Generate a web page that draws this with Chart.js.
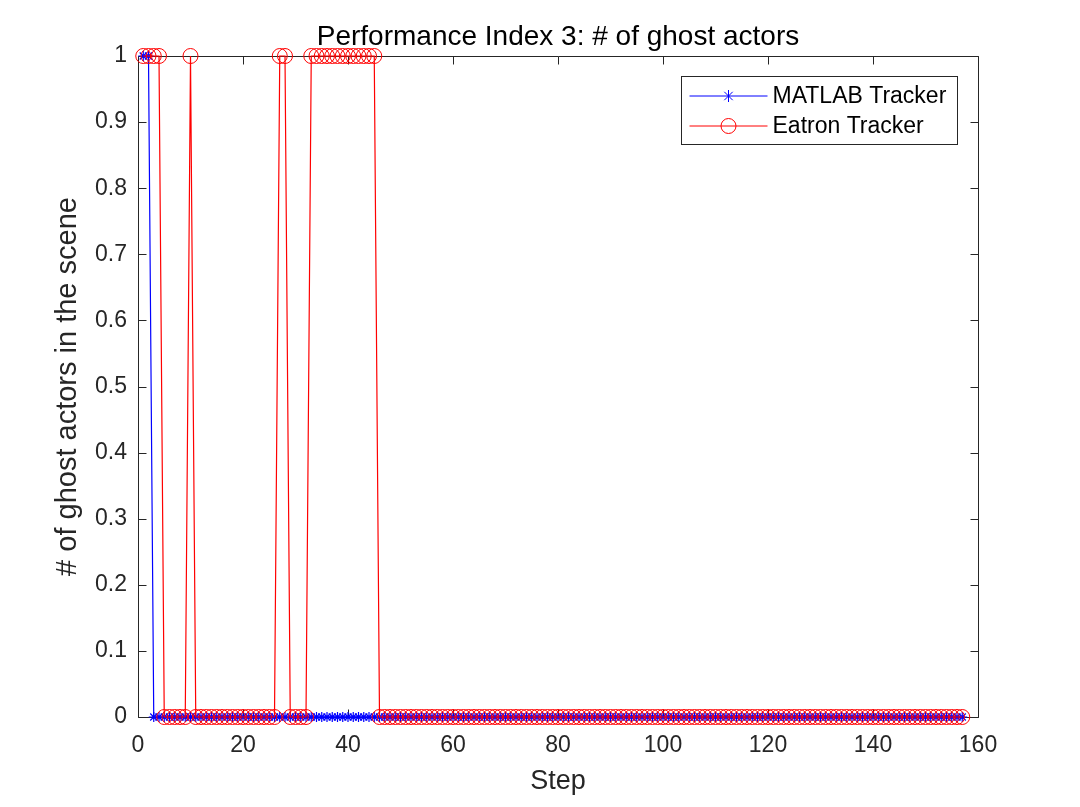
<!DOCTYPE html>
<html>
<head>
<meta charset="utf-8">
<title>Performance Index 3</title>
<script src="https://cdn.jsdelivr.net/npm/chart.js@4.4.1/dist/chart.umd.min.js"></script>
<style>
  html, body { margin: 0; padding: 0; background: #fff; }
  #wrap { width: 1080px; height: 807px; position: relative; }
</style>
</head>
<body>
<div id="wrap"><canvas id="perfchart"></canvas></div>
<script>
const FONT = "'Liberation Sans', Arial, Helvetica, sans-serif";
const AXIS_COLOR = '#262626';

// # of ghost actors per step (step = index + 1)
const matlabTracker = [
  1, 1, 0, 0, 0, 0, 0, 0, 0, 0,
  0, 0, 0, 0, 0, 0, 0, 0, 0, 0,
  0, 0, 0, 0, 0, 0, 0, 0, 0, 0,
  0, 0, 0, 0, 0, 0, 0, 0, 0, 0,
  0, 0, 0, 0, 0, 0, 0, 0, 0, 0,
  0, 0, 0, 0, 0, 0, 0, 0, 0, 0,
  0, 0, 0, 0, 0, 0, 0, 0, 0, 0,
  0, 0, 0, 0, 0, 0, 0, 0, 0, 0,
  0, 0, 0, 0, 0, 0, 0, 0, 0, 0,
  0, 0, 0, 0, 0, 0, 0, 0, 0, 0,
  0, 0, 0, 0, 0, 0, 0, 0, 0, 0,
  0, 0, 0, 0, 0, 0, 0, 0, 0, 0,
  0, 0, 0, 0, 0, 0, 0, 0, 0, 0,
  0, 0, 0, 0, 0, 0, 0, 0, 0, 0,
  0, 0, 0, 0, 0, 0, 0, 0, 0, 0,
  0, 0, 0, 0, 0, 0, 0
];
const eatronTracker = [
  1, 1, 1, 1, 0, 0, 0, 0, 0, 1,
  0, 0, 0, 0, 0, 0, 0, 0, 0, 0,
  0, 0, 0, 0, 0, 0, 1, 1, 0, 0,
  0, 0, 1, 1, 1, 1, 1, 1, 1, 1,
  1, 1, 1, 1, 1, 0, 0, 0, 0, 0,
  0, 0, 0, 0, 0, 0, 0, 0, 0, 0,
  0, 0, 0, 0, 0, 0, 0, 0, 0, 0,
  0, 0, 0, 0, 0, 0, 0, 0, 0, 0,
  0, 0, 0, 0, 0, 0, 0, 0, 0, 0,
  0, 0, 0, 0, 0, 0, 0, 0, 0, 0,
  0, 0, 0, 0, 0, 0, 0, 0, 0, 0,
  0, 0, 0, 0, 0, 0, 0, 0, 0, 0,
  0, 0, 0, 0, 0, 0, 0, 0, 0, 0,
  0, 0, 0, 0, 0, 0, 0, 0, 0, 0,
  0, 0, 0, 0, 0, 0, 0, 0, 0, 0,
  0, 0, 0, 0, 0, 0, 0
];
const steps = matlabTracker.map((_, i) => i + 1);

const xTicks = [0, 20, 40, 60, 80, 100, 120, 140, 160];
const yTicks = [0, 0.1, 0.2, 0.3, 0.4, 0.5, 0.6, 0.7, 0.8, 0.9, 1];

const seriesNames = ['MATLAB Tracker', 'Eatron Tracker'];
const seriesColors = ['#0000ff', '#ff0000'];

// box + inward ticks, MATLAB style
const boxPlugin = {
  id: 'boxPlugin',
  beforeDatasetsDraw(chart) {
    const { ctx, chartArea: a, scales: { x, y } } = chart;
    const L = Math.round(a.left) + 0.5, R = Math.round(a.right) + 0.5;
    const T = Math.round(a.top) + 0.5, B = Math.round(a.bottom) + 0.5;
    const len = 8;
    ctx.save();
    ctx.strokeStyle = AXIS_COLOR;
    ctx.lineWidth = 1;
    ctx.beginPath();
    ctx.rect(L, T, R - L, B - T);
    xTicks.forEach(v => {
      const p = Math.round(x.getPixelForValue(v)) + 0.5;
      ctx.moveTo(p, B); ctx.lineTo(p, B - len);
      ctx.moveTo(p, T); ctx.lineTo(p, T + len);
    });
    yTicks.forEach(v => {
      const p = Math.round(y.getPixelForValue(v)) + 0.5;
      ctx.moveTo(L, p); ctx.lineTo(L + len, p);
      ctx.moveTo(R, p); ctx.lineTo(R - len, p);
    });
    ctx.stroke();
    ctx.restore();
  }
};

// legend with line + marker samples
const legendPlugin = {
  id: 'legendPlugin',
  afterDraw(chart) {
    const { ctx, chartArea: a } = chart;
    const w = 276, h = 68;
    const bx = Math.round(a.right - 21 - w) + 0.5;
    const by = Math.round(a.top + 20) + 0.5;
    ctx.save();
    ctx.fillStyle = '#fff';
    ctx.fillRect(bx, by, w, h);
    ctx.strokeStyle = AXIS_COLOR;
    ctx.lineWidth = 1;
    ctx.strokeRect(bx, by, w, h);
    ctx.font = '23px ' + FONT;
    ctx.textBaseline = 'middle';
    ctx.textAlign = 'left';
    seriesNames.forEach((name, i) => {
      const cy = by + 19.5 + i * 30;
      ctx.strokeStyle = seriesColors[i];
      ctx.beginPath();
      ctx.moveTo(bx + 8, cy);
      ctx.lineTo(bx + 86, cy);
      ctx.stroke();
      const mx = bx + 47;
      ctx.beginPath();
      if (i === 0) {
        const r = 6;
        ctx.moveTo(mx, cy - r); ctx.lineTo(mx, cy + r);
        ctx.moveTo(mx - r * 0.7, cy - r * 0.7); ctx.lineTo(mx + r * 0.7, cy + r * 0.7);
        ctx.moveTo(mx - r * 0.7, cy + r * 0.7); ctx.lineTo(mx + r * 0.7, cy - r * 0.7);
      } else {
        ctx.arc(mx, cy, 7.5, 0, Math.PI * 2);
      }
      ctx.stroke();
      ctx.fillStyle = '#000';
      ctx.fillText(name, bx + 91, cy + 1);
    });
    ctx.restore();
  }
};

const ctx = document.getElementById('perfchart');

new Chart(ctx, {
  type: 'line',
  data: {
    datasets: [
      {
        label: seriesNames[1],
        data: steps.map((s, i) => ({ x: s, y: eatronTracker[i] })),
        borderColor: seriesColors[1],
        borderWidth: 1.2,
        pointStyle: 'circle',
        pointRadius: 7.5,
        pointBorderWidth: 1,
        pointBorderColor: seriesColors[1],
        pointBackgroundColor: 'rgba(0,0,0,0)',
        tension: 0,
        clip: false
      },
      {
        label: seriesNames[0],
        data: steps.map((s, i) => ({ x: s, y: matlabTracker[i] })),
        borderColor: seriesColors[0],
        borderWidth: 1.2,
        pointStyle: 'star',
        pointRadius: 5,
        pointBorderWidth: 1.2,
        pointBorderColor: seriesColors[0],
        pointBackgroundColor: seriesColors[0],
        tension: 0,
        clip: false
      }
    ]
  },
  options: {
    responsive: true,
    maintainAspectRatio: false,
    animation: false,
    events: [],
    layout: { padding: { left: 0, right: 102, top: 0, bottom: 0 } },
    plugins: {
      legend: { display: false },
      tooltip: { enabled: false },
      title: {
        display: true,
        text: 'Performance Index 3: # of ghost actors',
        color: '#000',
        fullSize: false,
        font: { family: FONT, size: 28, weight: 'normal', lineHeight: 1 },
        padding: { top: 23, bottom: 5 }
      }
    },
    scales: {
      x: {
        type: 'linear',
        min: 0,
        max: 160,
        afterBuildTicks(s) { s.ticks = xTicks.map(v => ({ value: v })); },
        afterFit(s) { s.height = 90; },
        grid: { drawOnChartArea: false, drawTicks: false },
        border: { display: false },
        ticks: {
          color: AXIS_COLOR,
          padding: 15,
          maxRotation: 0,
          font: { family: FONT, size: 23 }
        },
        title: {
          display: true,
          text: 'Step',
          color: AXIS_COLOR,
          font: { family: FONT, size: 27, lineHeight: 1 },
          padding: { top: 0, bottom: 12 }
        }
      },
      y: {
        min: 0,
        max: 1,
        afterBuildTicks(s) { s.ticks = yTicks.map(v => ({ value: v })); },
        afterFit(s) { s.width = 138; },
        grid: { drawOnChartArea: false, drawTicks: false },
        border: { display: false },
        ticks: {
          color: AXIS_COLOR,
          padding: 11,
          font: { family: FONT, size: 23 },
          callback: v => String(+v.toFixed(1))
        },
        title: {
          display: true,
          text: '# of ghost actors in the scene',
          color: AXIS_COLOR,
          font: { family: FONT, size: 29, lineHeight: 1 },
          padding: { top: 53, bottom: 0 }
        }
      }
    }
  },
  plugins: [boxPlugin, legendPlugin]
});
</script>
</body>
</html>
